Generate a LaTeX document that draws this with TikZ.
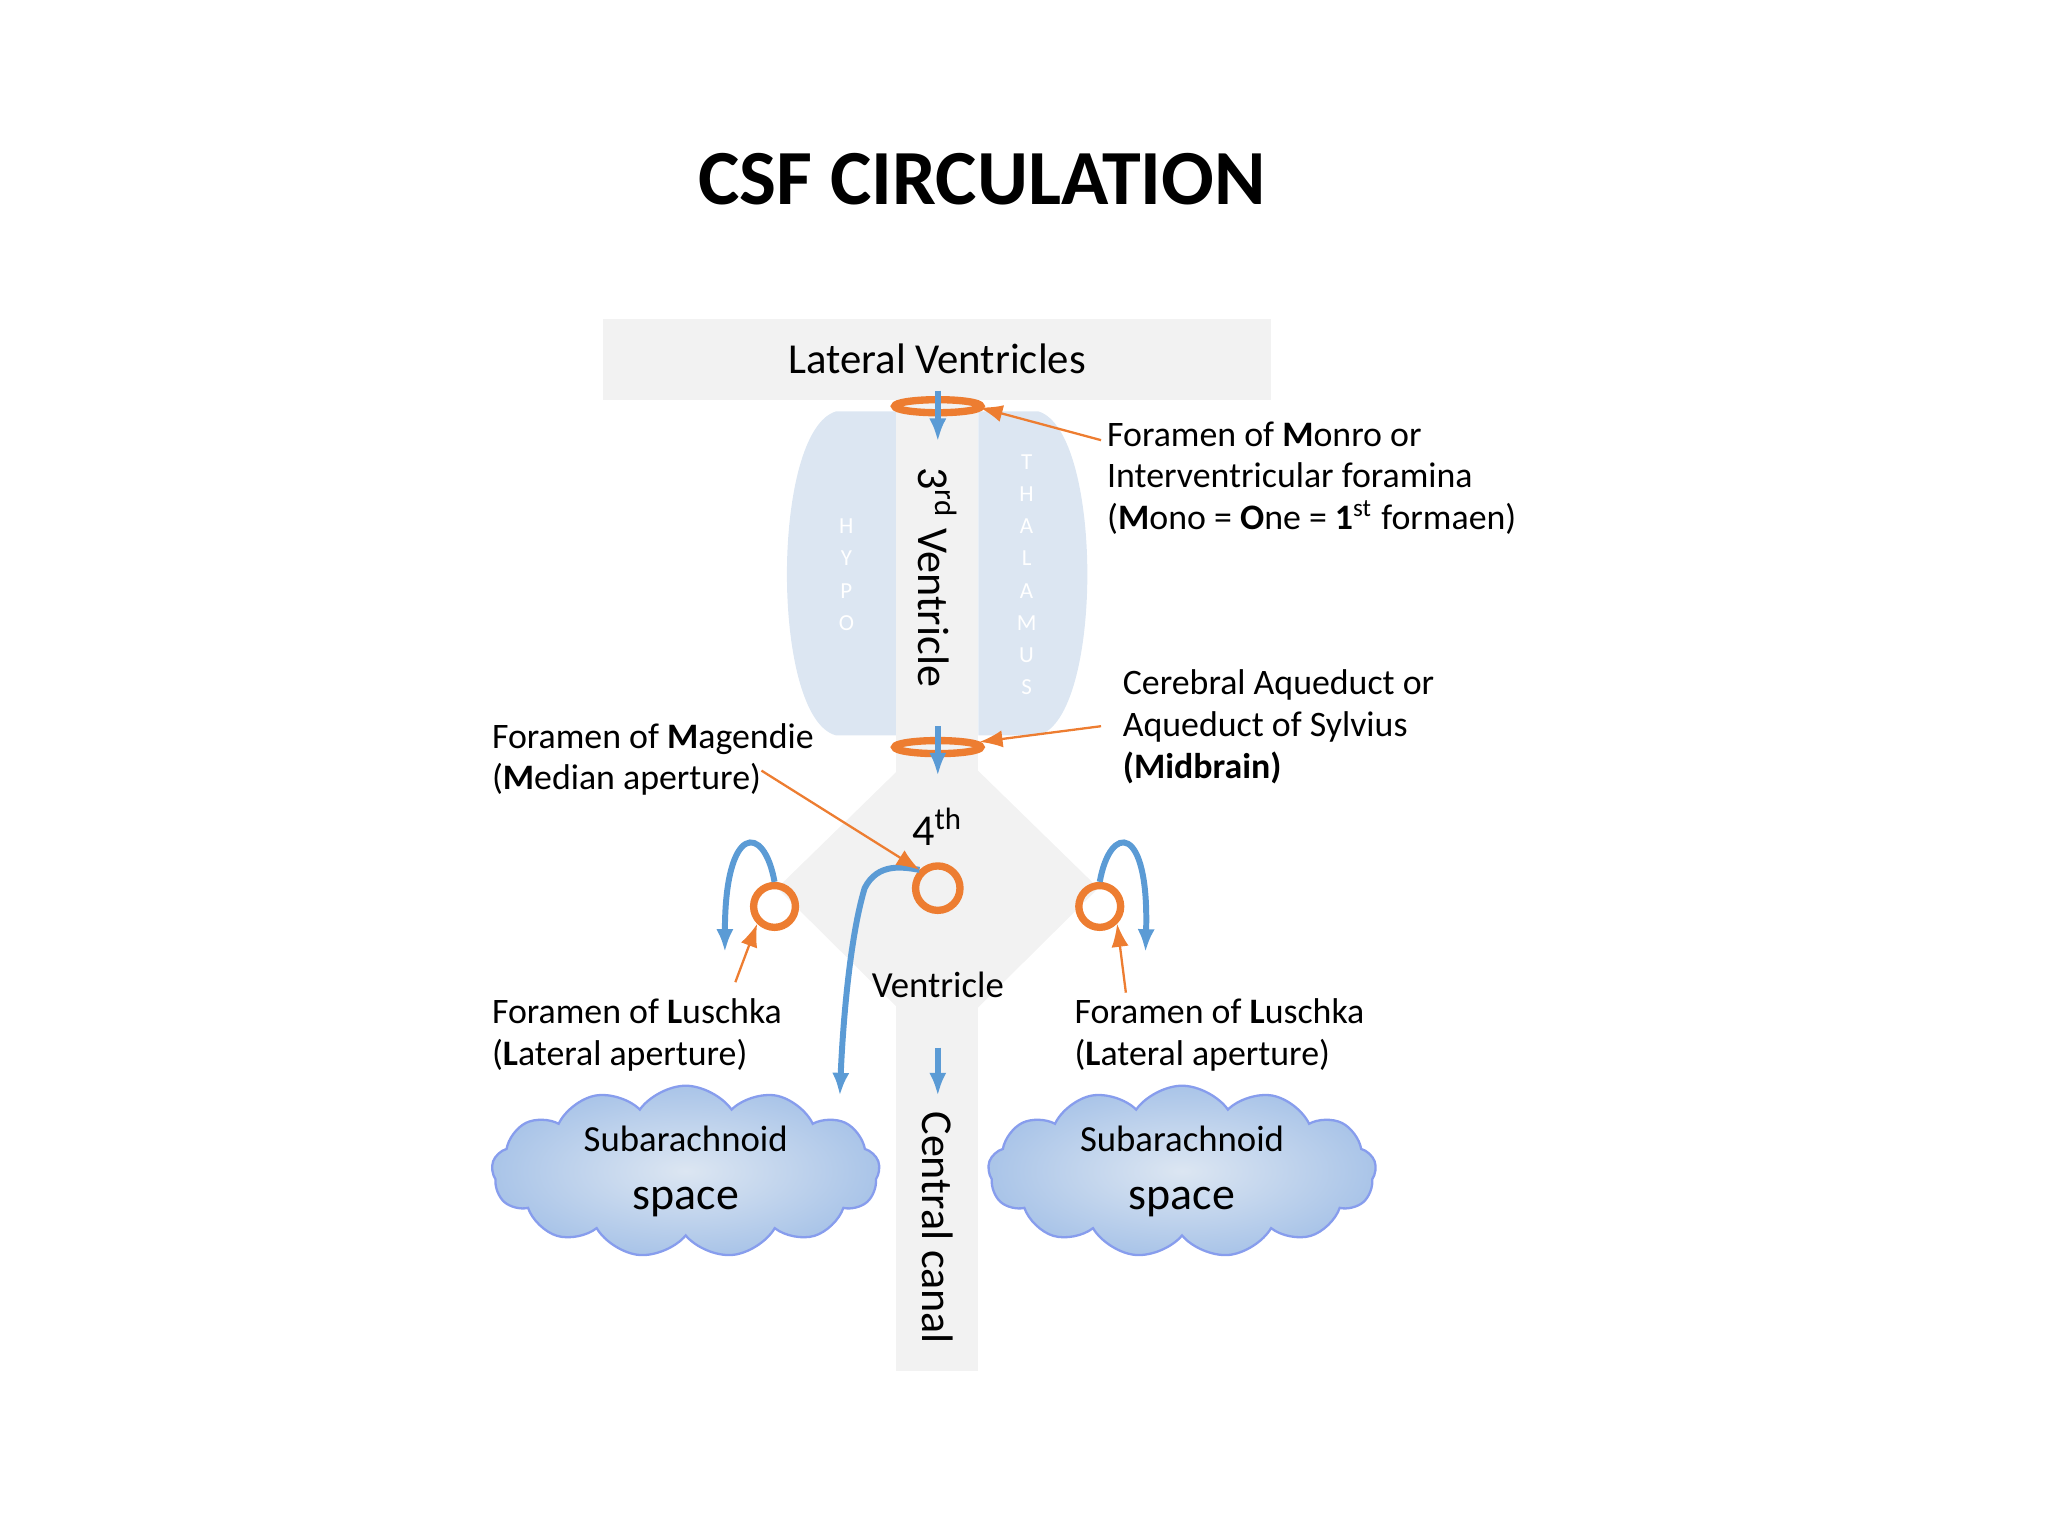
\documentclass[tikz,border=0pt]{standalone}
\usepackage{fontspec}
\setmainfont{Carlito}
\usetikzlibrary{shapes.symbols,arrows.meta}
\definecolor{org}{HTML}{ED7D31}
\definecolor{blu}{HTML}{5B9BD5}
\definecolor{lb}{HTML}{DCE6F2}
\definecolor{cl}{HTML}{A9C4E8}
\begin{document}
\begin{tikzpicture}[x=0.01cm,y=-0.01cm,
 lab/.style={font=\fontsize{7.8}{9.1}\selectfont,align=left,anchor=north west,inner sep=0},
 ring/.style={draw=org,line width=1.6pt},
 ol/.style={draw=org,line width=0.5pt,-{Latex[length=5pt]}},
 fl/.style={draw=blu,line width=1.3pt,-{Latex[length=5pt]}},
 cloudy/.style={cloud,cloud puffs=13,cloud puff arc=110,aspect=3,draw=cl!80!blue,line width=0.5pt,inner color=lb,outer color=cl,minimum width=2.8cm,minimum height=1.05cm,align=center,font=\fontsize{8}{12.5}\selectfont,inner sep=0},
 vt/.style={text=white,font=\fontsize{5}{7}\selectfont,align=center}]
\useasboundingbox (0,0) rectangle (1568,1176);
\node (title) at (752,137) {\fontsize{17}{22}\selectfont\bfseries CSF CIRCULATION};
% background shapes
\fill[gray!10] (595,680) -- (718,560) -- (841,680) -- (718,802) -- cycle;
\fill[lb] (686,315) -- (640,315) .. controls (590,330) and (590,550) .. (640,563) -- (686,563) -- cycle;
\fill[lb] (749,315) -- (795,315) .. controls (845,330) and (845,550) .. (795,563) -- (749,563) -- cycle;
\fill[gray!10] (686,306) rectangle (749,1050);
\node[fill=gray!10,minimum width=5.11cm,minimum height=0.62cm,inner sep=0,font=\fontsize{9.3}{12}\selectfont] (lv) at (717.5,275) {Lateral Ventricles};
\node[vt] (hypo) at (648,440) {H\\Y\\P\\O};
\node[vt] (thal) at (786,440) {T\\H\\A\\L\\A\\M\\U\\S};
\node[rotate=-90,font=\fontsize{9.6}{12}\selectfont] (v3) at (718,442) {3\textsuperscript{rd} Ventricle};
\node[rotate=-90,font=\fontsize{9.6}{12}\selectfont] (cc) at (718,940) {Central canal};
\node[font=\fontsize{9.6}{12}\selectfont] (v4) at (718,633) {4\textsuperscript{th}};
\node[font=\fontsize{8}{11}\selectfont] (v4b) at (718,754) {Ventricle};
% rings
\draw[ring] (718,311) ellipse [x radius=33,y radius=5];
\coordinate (monro) at (750,312);
\draw[ring] (718,572) ellipse [x radius=33,y radius=5];
\coordinate (aq) at (750,568);
\node[ring,circle,minimum size=0.34cm,inner sep=0] (mag) at (718,680) {};
\node[ring,circle,minimum size=0.32cm,inner sep=0] (lusl) at (593,694) {};
\node[ring,circle,minimum size=0.32cm,inner sep=0] (lusr) at (842,694) {};
% flow arrows
\coordinate (a1) at (718,299); \coordinate (a2) at (718,338);
\draw[fl] (a1) -- (a2);
\coordinate (b1) at (718,556); \coordinate (b2) at (718,594);
\draw[fl] (b1) -- (b2);
\coordinate (c1) at (718,802); \coordinate (c2) at (718,839);
\draw[fl] (c1) -- (c2);
\coordinate (ll) at (555,729);
\draw[fl] (lusl.north) .. controls (585,630) and (555,630) .. (ll);
\coordinate (rl) at (877,729);
\draw[fl] (lusr.north) .. controls (850,630) and (880,630) .. (rl);
\coordinate (ml) at (643,839);
\draw[fl] (mag.north west) .. controls (692,664) and (672,660) .. (662,680) .. controls (650,720) and (645,790) .. (ml);
% labels
\node[lab] (tmonro) at (847,322) {Foramen of \textbf{M}onro or\\Interventricular foramina\\(\textbf{M}ono = \textbf{O}ne = \textbf{1}\textsuperscript{st} formaen)};
\node[lab] (taq) at (859,512) {Cerebral Aqueduct or\\Aqueduct of Sylvius\\\textbf{(Midbrain)}};
\node[lab] (tmag) at (376,553) {Foramen of \textbf{M}agendie\\(\textbf{M}edian aperture)};
\node[lab] (tll) at (376,764) {Foramen of \textbf{L}uschka\\(\textbf{L}ateral aperture)};
\node[lab] (tlr) at (822,764) {Foramen of \textbf{L}uschka\\(\textbf{L}ateral aperture)};
\draw[ol] (843,337) -- (monro);
\draw[ol] (843,556) -- (aq);
\draw[ol] (583,590) -- (mag.north west);
\draw[ol] (563,752) -- (lusl.south west);
\draw[ol] (862,760) -- (lusr.south east);
% clouds
\node[cloudy] (sl) at (525,897) {Subarachnoid\\{\fontsize{10}{12.5}\selectfont space}};
\node[cloudy] (sr) at (905,897) {Subarachnoid\\{\fontsize{10}{12.5}\selectfont space}};
\end{tikzpicture}
\end{document}
